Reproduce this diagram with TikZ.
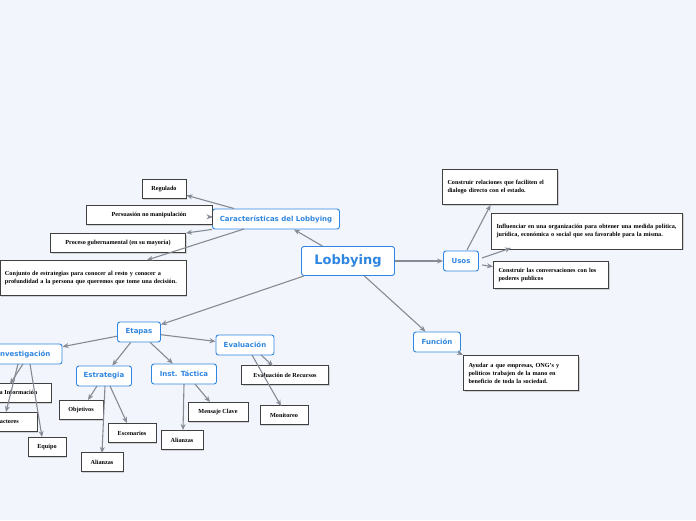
\documentclass[tikz,border=0pt]{standalone}
\usepackage{fontspec}
\setmainfont{Liberation Serif}
\newfontfamily\vfont{DejaVu Sans}
\usetikzlibrary{arrows.meta,shadows}
\definecolor{bg}{HTML}{F3F5FC}
\definecolor{topicblue}{HTML}{2F86E0}
\definecolor{edgegray}{HTML}{858A94}
\tikzset{
 topic/.style={draw=topicblue,line width=0.9pt,fill=white,rounded corners=2.5pt,text=topicblue,font=\vfont\bfseries\fontsize{7}{8}\selectfont,inner sep=0pt,minimum height=20pt},
 leaf/.style={draw=black!75,line width=1pt,fill=white,font=\bfseries\fontsize{6.2}{8}\selectfont,inner sep=0pt,minimum height=19pt,drop shadow={shadow xshift=1pt,shadow yshift=-1pt,opacity=0.3}},
 para/.style={leaf,align=left,text width=#1,inner xsep=5pt,execute at begin node={\hyphenpenalty=10000\exhyphenpenalty=10000}},
 conn/.style={draw=edgegray,line width=1.1pt,-{Stealth[length=6pt,width=5pt]}},
}
\begin{document}
\begin{tikzpicture}[x=1pt,y=-1pt]
\useasboundingbox[fill=bg] (0,0) rectangle (696,520);
\node[topic,minimum width=93pt,minimum height=29pt,font=\vfont\bfseries\fontsize{13}{15}\selectfont] (lob) at (348,261) {Lobbying};
\node[topic,minimum width=127pt] (car) at (276,219) {Características del Lobbying};
\node[leaf,minimum width=44pt] (reg) at (164,189) {Regulado};
\node[leaf,minimum width=126pt] (per) at (149,215) {Persuasión no manipulación};
\node[leaf,minimum width=135pt] (pro) at (118,243) {Proceso gubernamental (en su mayoría)};
\node[para=176pt,minimum height=35pt] (con) at (93,278) {Conjunto de estrategias para conocer al resto y conocer a profundidad a la persona que queremos que tome una decisión.};
\node[para=105pt,minimum height=35pt] (cr) at (500,187) {Construir relaciones que faciliten el dialogo directo con el estado.};
\node[para=181pt,minimum height=36pt] (inf) at (587,231) {Influenciar en una organización para obtener una medida política, jurídica, económica o social que sea favorable para la misma.};
\node[para=105pt,minimum height=27pt] (cc) at (551,275) {Construir las conversaciones con los poderes publicos};
\node[topic,minimum width=35pt] (usos) at (461,261) {Usos};
\node[topic,minimum width=47pt] (fun) at (437,342) {Función};
\node[para=105pt,minimum height=35pt] (ay) at (521,373) {Ayudar a que empresas, ONG's y politicos trabajen de la mano en beneficio de toda la sociedad.};
\node[topic,minimum width=43pt] (eta) at (139,332) {Etapas};
\node[topic,minimum width=76pt] (inv) at (24,354) {Investigación};
\node[leaf,minimum width=110pt] (info) at (-4,393) {Recopilación de la Información};
\node[leaf,minimum width=80pt] (act) at (-3,422) {Mapa de actores};
\node[leaf,minimum width=38pt] (equ) at (47,447) {Equipo};
\node[topic,minimum width=55pt] (est) at (104,376) {Estrategia};
\node[leaf,minimum width=44pt] (obj) at (81,410) {Objetivos};
\node[leaf,minimum width=48pt] (esc) at (132,433) {Escenarios};
\node[leaf,minimum width=42pt] (al1) at (102,462) {Alianzas};
\node[topic,minimum width=65pt] (ins) at (184,374) {Inst. Táctica};
\node[leaf,minimum width=60pt] (men) at (218,412) {Mensaje Clave};
\node[leaf,minimum width=42pt] (al2) at (182,440) {Alianzas};
\node[topic,minimum width=58pt] (eva) at (245,345) {Evaluación};
\node[leaf,minimum width=87pt] (er) at (285,375) {Evaluación de Recursos};
\node[leaf,minimum width=48pt] (mon) at (284,415) {Monitoreo};
\draw[conn] (lob) -- (car);
\draw[conn] (lob) -- (usos);
\draw[conn] (lob) -- (fun);
\draw[conn] (lob) -- (eta);
\draw[conn] (car.north west)++(22,0) -- (reg);
\draw[conn] (car) -- (per);
\draw[conn] (car.south west) -- (pro.north east);
\draw[conn] (244,229) -- (147,260);
\draw[conn] (467,250) -- (cr);
\draw[conn] (482,258) -- (511,248);
\draw[conn] (482,265) -- (cc);
\draw[conn] (fun) -- (ay.north west);
\draw[conn] (eta) -- (inv);
\draw[conn] (eta) -- (est);
\draw[conn] (eta) -- (ins);
\draw[conn] (eta) -- (eva);
\draw[conn] (23,364) -- (10,384);
\draw[conn] (18,364) -- (6,412);
\draw[conn] (30,364) -- (42,437);
\draw[conn] (97,386) -- (88,400);
\draw[conn] (105,386) -- (102,453);
\draw[conn] (110,386) -- (127,423);
\draw[conn] (184,384) -- (183,430);
\draw[conn] (195,384) -- (210,402);
\draw[conn] (261,355) -- (273,366);
\draw[conn] (252,355) -- (281,406);
\end{tikzpicture}
\end{document}
